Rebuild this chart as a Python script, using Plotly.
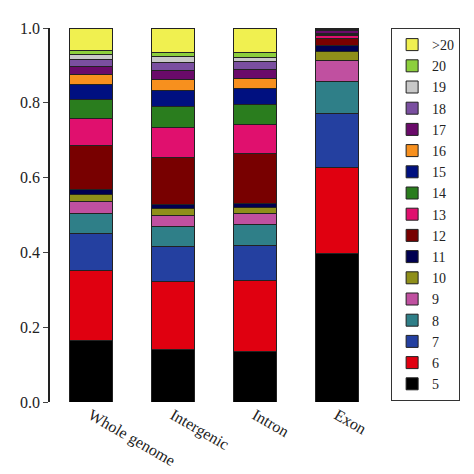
import numpy as np
import plotly.graph_objects as go

regions = ["Whole genome", "Intergenic", "Intron", "Exon"]
classes = ["5", "6", "7", "8", "9", "10", "11", "12", "13", "14", "15", "16", "17", "18", "19", "20", ">20"]
colors = ["#000000", "#e00010", "#2440a0", "#2f7f88", "#c050a0", "#8f8f1a", "#000050",
          "#780000", "#e0106e", "#2a7d1e", "#001080", "#f7901e", "#6a0a6a", "#7a4fa0",
          "#c8c8c8", "#8ccf3c", "#f0f050"]

# cumulative top of each class, per region
top_whole = [0.165, 0.352, 0.451, 0.505, 0.537, 0.556, 0.568, 0.685, 0.758, 0.809, 0.848, 0.875, 0.898, 0.916, 0.928, 0.940, 1.0]
top_inter = [0.140, 0.322, 0.417, 0.470, 0.498, 0.517, 0.527, 0.654, 0.734, 0.791, 0.833, 0.861, 0.887, 0.907, 0.923, 0.934, 1.0]
top_intron = [0.136, 0.324, 0.419, 0.474, 0.503, 0.519, 0.531, 0.664, 0.742, 0.796, 0.837, 0.865, 0.890, 0.911, 0.922, 0.934, 1.0]
top_exon = [0.398, 0.628, 0.772, 0.856, 0.912, 0.938, 0.953, 0.973, 0.980, 0.982, 0.984, 0.986, 0.994, 0.996, 0.997, 0.998, 1.0]

tops = np.array([top_whole, top_inter, top_intron, top_exon])
shares = np.diff(np.hstack([np.zeros((4, 1)), tops]), axis=1)

fig = go.Figure()
for i, c in enumerate(classes):
    fig.add_trace(go.Bar(x=regions, y=shares[:, i], name=c, marker_color=colors[i],
                         marker_line=dict(color="#222", width=1)))

fig.update_layout(
    barmode="stack", bargap=0.48, width=474, height=474,
    plot_bgcolor="white", paper_bgcolor="white",
    font=dict(family="Liberation Serif", size=16, color="#222"),
    margin=dict(l=30, r=104, t=16, b=30),
    legend=dict(traceorder="reversed", x=1.04, y=1.0, xanchor="left", yanchor="top",
                bordercolor="#333", borderwidth=1, font=dict(size=14),
                tracegroupgap=0, itemwidth=30),
    showlegend=True,
)
fig.update_xaxes(showline=False, ticks="", tickfont=dict(size=16))
fig.update_yaxes(range=[0, 1.0], dtick=0.2, tickformat=".1f", showline=True, linecolor="#222",
                 linewidth=1.5, ticks="outside", ticklen=5, showgrid=False, zeroline=False)

fig.write_html("out.html")
